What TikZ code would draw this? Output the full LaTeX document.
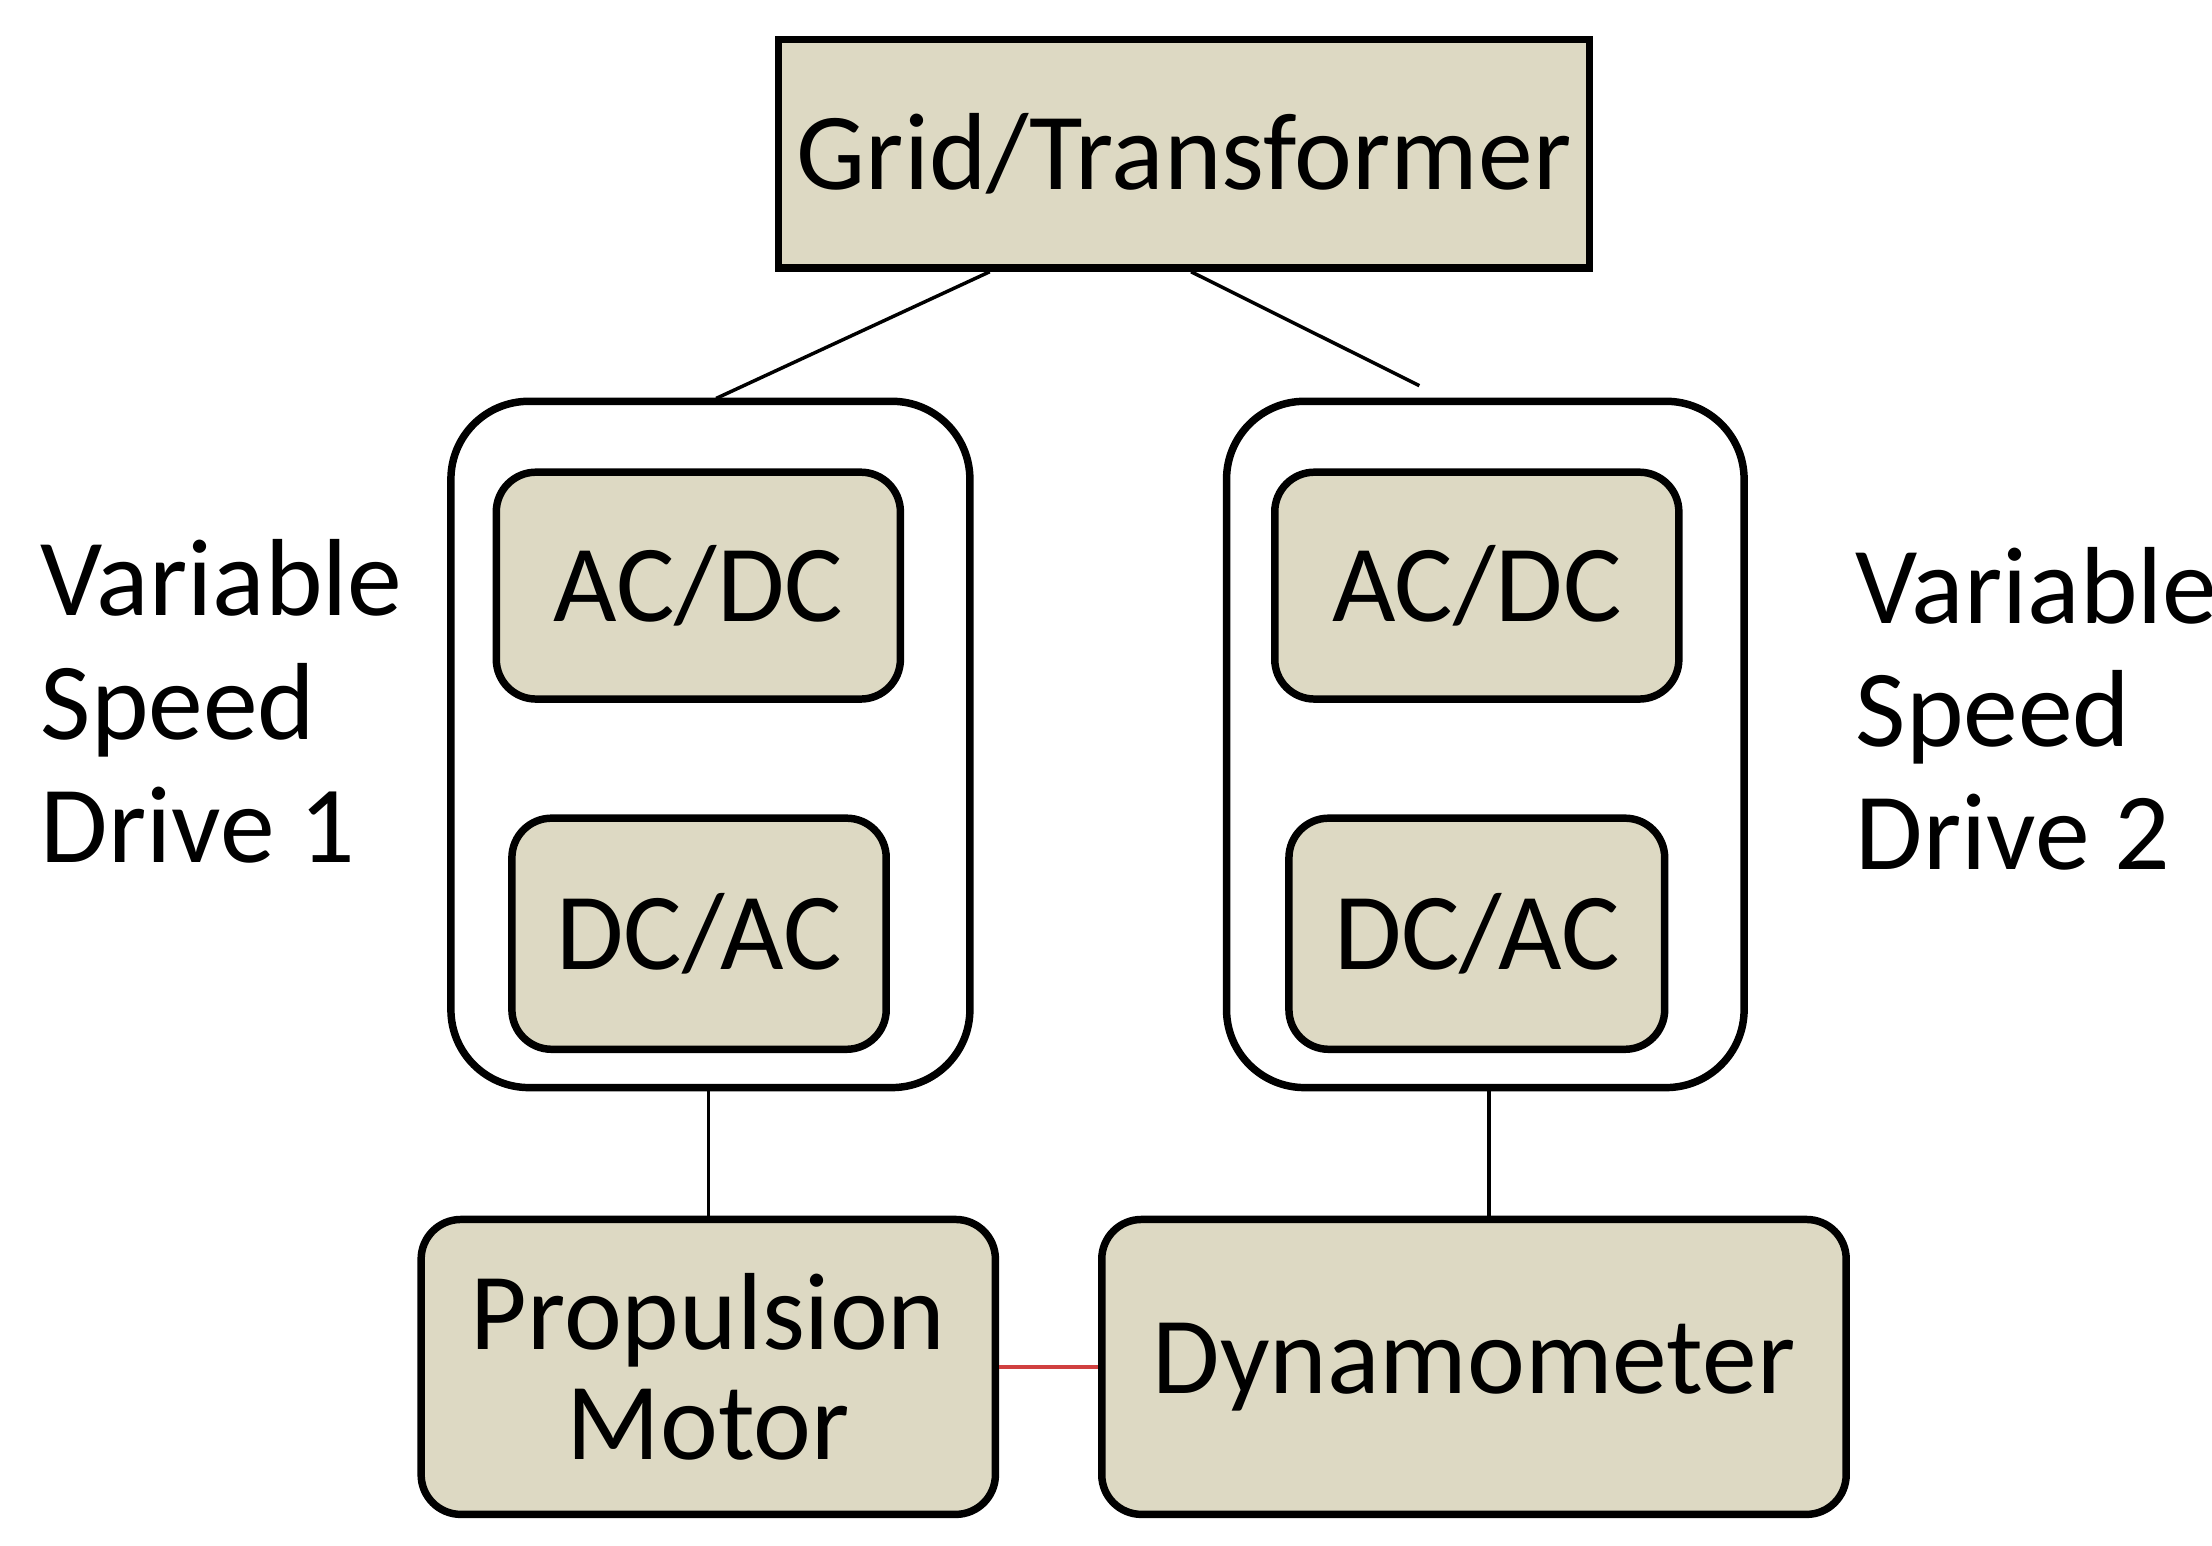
\documentclass[tikz,border=0pt]{standalone}
\usepackage{fontspec}
\setmainfont{Carlito}
\usetikzlibrary{positioning}
\definecolor{boxfill}{HTML}{DDD9C3}
\definecolor{linkred}{HTML}{D04040}

\begin{document}
\begin{tikzpicture}[
    block/.style={draw,line width=1.5pt,fill=boxfill,rounded corners=0.28cm,
        font=\fontsize{22}{25}\selectfont,align=center,inner sep=0pt},
    drive/.style={draw,line width=1.5pt,fill=white,rounded corners=0.55cm,inner sep=0pt},
    label/.style={font=\fontsize{22}{24.7}\selectfont,align=left,anchor=north west,inner sep=0pt},
    link/.style={line width=0.7pt},
    ]
    \useasboundingbox (0,0) rectangle (15.6,10.9);
    % Grid / transformer
    \node[block,rounded corners=0pt,minimum width=5.72cm,minimum height=1.61cm]
        (grid) at (8.35,9.815) {Grid/Transformer};
    % Drive housings
    \node[drive,minimum width=3.66cm,minimum height=4.84cm] (vsd1) at (5.01,5.65) {};
    \node[drive,minimum width=3.65cm,minimum height=4.84cm] (vsd2) at (10.475,5.65) {};
    % Converters
    \node[block,minimum width=2.85cm,minimum height=1.6cm] (rect1) at (4.925,6.77) {AC/DC};
    \node[block,minimum width=2.64cm,minimum height=1.63cm] (inv1) at (4.93,4.315) {DC/AC};
    \node[block,minimum width=2.85cm,minimum height=1.6cm] (rect2) at (10.415,6.77) {AC/DC};
    \node[block,minimum width=2.65cm,minimum height=1.63cm] (inv2) at (10.415,4.315) {DC/AC};
    % Machines
    \node[block,minimum width=4.05cm,minimum height=2.08cm] (motor) at (4.995,1.26)
        {Propulsion\\[-0.1cm]Motor};
    \node[block,minimum width=5.25cm,minimum height=2.08cm] (dyno) at (10.395,1.26) {Dynamometer};
    % Drive names
    \node[label] (name1) at (0.28,7.1) {Variable\\Speed\\Drive 1};
    \node[label] (name2) at (13.08,7.05) {Variable\\Speed\\Drive 2};
    % Connections
    \coordinate (feed1) at (5.05,8.09);
    \coordinate (feed2) at (10.01,8.18);
    \draw[link] (grid.south -| 6.98,0) -- (feed1);
    \draw[link] (grid.south -| 8.4,0) -- (feed2);
    \draw[link] (vsd1.south -| motor.north) -- (motor.north);
    \draw[link] (vsd2.south -| 10.5,0) -- (dyno.north -| 10.5,0);
    \draw[link,linkred] (motor.east) -- (dyno.west);
\end{tikzpicture}
\end{document}
